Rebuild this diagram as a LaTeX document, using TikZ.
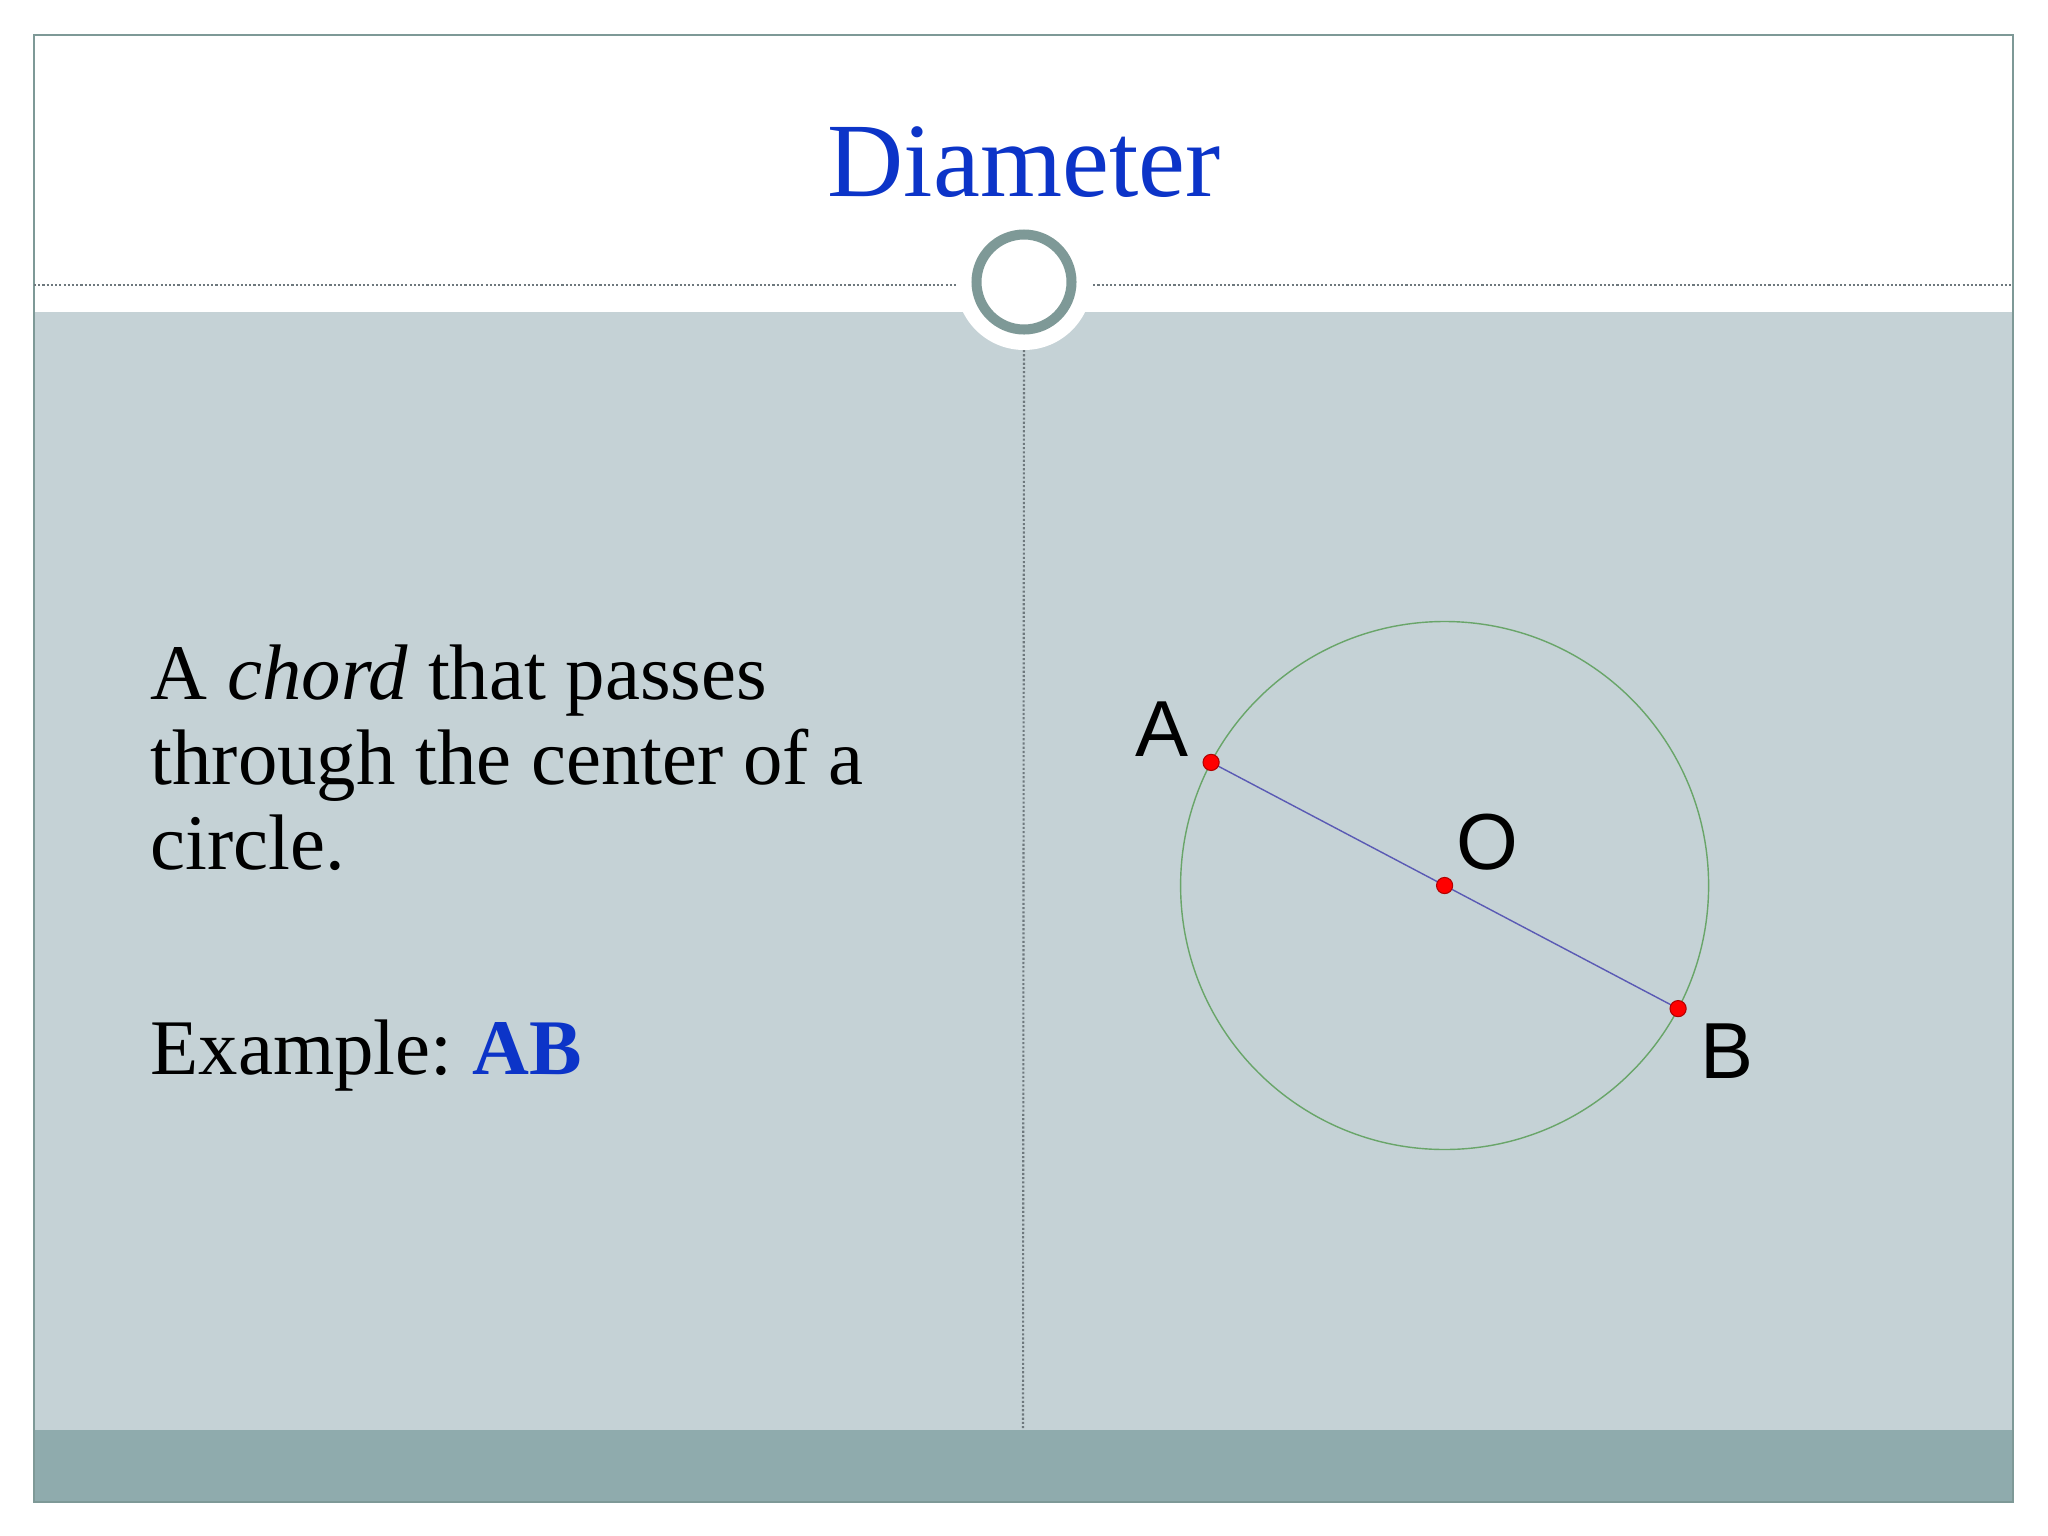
\documentclass[tikz,border=0pt]{standalone}
\usepackage{fontspec}
\setmainfont{Liberation Serif}
\setsansfont{Liberation Sans}
\usetikzlibrary{positioning}
\definecolor{panelgray}{RGB}{197,210,214}
\definecolor{footteal}{RGB}{143,171,173}
\definecolor{ringteal}{RGB}{126,153,151}
\definecolor{titleblue}{RGB}{12,52,200}
\definecolor{dotgray}{RGB}{110,120,125}
\definecolor{circgreen}{RGB}{105,165,105}
\definecolor{chordblue}{RGB}{90,90,180}
\tikzstyle{body} = [anchor=base west, inner sep=0pt, font=\fontsize{22.4}{26}\selectfont]
\tikzstyle{point} = [circle, fill=red, draw=red!70!black, line width=0.3pt, inner sep=0pt, minimum size=4.6pt]
\tikzstyle{ptlabel} = [font=\sffamily\fontsize{22.6}{26}\selectfont, inner sep=0pt]
\tikzstyle{sep} = [dotgray, line width=0.6pt, dash pattern=on 0.6pt off 0.6pt]

\begin{document}
\begin{tikzpicture}[x=0.01cm, y=-0.01cm]
    \useasboundingbox[fill=white] (0,0) rectangle (2048,1536);
    % slide background
    \fill[panelgray] (34,312) rectangle (2013,1430);
    \fill[footteal] (34,1430) rectangle (2013,1502);
    \draw[ringteal, line width=0.6pt] (34,35) rectangle (2013,1502);
    \draw[sep] (34,285) -- (2013,285);
    \fill[white] (1024,282) circle [radius=68];
    \draw[ringteal, line width=2.85pt] (1024,282) circle [radius=47.5];
    \coordinate (halo) at (1024,350);
    \coordinate (foot) at (1023,1430);
    \draw[sep] (halo) -- (foot);
    % title and text
    \node [anchor=base, inner sep=0pt, text=titleblue, font=\fontsize{30}{36}\selectfont] (title) at (1024,196) {Diameter};
    \node [body] (line1) at (150,699) {A \textit{chord} that passes};
    \node [body] (line2) at (150,784) {through the center of a};
    \node [body] (line3) at (150,869) {circle.};
    \node [body] (example) at (150,1074) {\frenchspacing Example: \textbf{\color{titleblue}AB}};
    % circle with diameter
    \coordinate (O) at (1444.6,885.5);
    \coordinate (A) at (1211.1,762.4);
    \coordinate (B) at (1678.1,1008.6);
    \draw [circgreen, line width=0.4pt] (O) circle [radius=264];
    \draw [chordblue, line width=0.4pt] (A) -- (B);
    \node [point] (dotA) at (A) {};
    \node [point] (dotO) at (O) {};
    \node [point] (dotB) at (B) {};
    \node [ptlabel] (labA) at (1162,729.5) {A};
    \node [ptlabel] (labO) at (1487.6,841.7) {O};
    \node [ptlabel] (labB) at (1726.5,1051) {B};
\end{tikzpicture}
\end{document}
